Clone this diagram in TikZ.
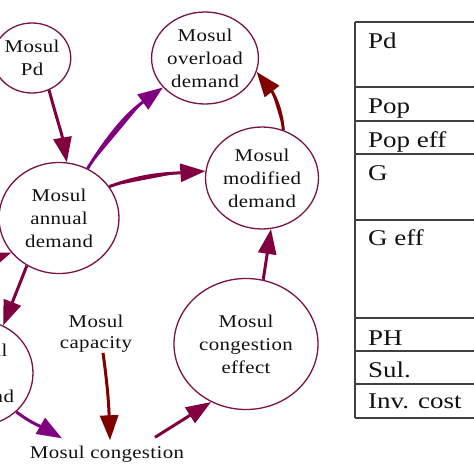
\documentclass[tikz,border=0pt]{standalone}
\usepackage{fontspec}
\setmainfont{Liberation Serif}
\newfontfamily\dgfont[FakeStretch=1.16,LetterSpace=2]{Liberation Serif}
\newfontfamily\tbfont[FakeStretch=1.2]{Liberation Serif}
\usetikzlibrary{arrows.meta,shapes.geometric}
\definecolor{nodec}{HTML}{7A1248}
\definecolor{cM}{HTML}{800040}
\definecolor{cP}{HTML}{800080}
\definecolor{cR}{HTML}{800000}
\definecolor{tabc}{HTML}{404040}
\definecolor{txt}{HTML}{111111}
\tikzset{
  cnode/.style={ellipse, draw=nodec, line width=1.3pt, inner sep=0pt, align=center,
    font=\dgfont\fontsize{18}{23}\selectfont, text=txt},
  lbl/.style={inner sep=0pt, align=center, font=\dgfont\fontsize{18}{21}\selectfont, text=txt},
  arrbase/.style={line width=3pt, -{Triangle[length=25pt,width=18pt]}},
  arrM/.style={arrbase, draw=cM, fill=cM},
  arrP/.style={arrbase, draw=cP, fill=cP},
  arrR/.style={arrbase, draw=cR, fill=cR},
  tline/.style={draw=tabc, line width=1.3pt},
  ttxt/.style={inner sep=0pt, anchor=base west, font=\tbfont\fontsize{22.5}{26}\selectfont, text=txt}
}
\begin{document}
\begin{tikzpicture}[x=1pt,y=1pt]
\useasboundingbox (0,-474) rectangle (474,0);
\clip (0,-474) rectangle (474,0);
\fill[white] (0,-474) rectangle (474,0);
% nodes
\node[cnode, minimum width=74pt, minimum height=70pt] (pd) at (32,-58) {Mosul\\Pd};
\node[cnode, minimum width=104pt, minimum height=92pt] (ov) at (205,-58) {Mosul\\overload\\demand};
\node[cnode, minimum width=113pt, minimum height=102pt] (md) at (262,-178) {Mosul\\modified\\demand};
\node[cnode, minimum width=120pt, minimum height=111pt] (an) at (59,-218) {Mosul\\annual\\demand};
\node[cnode, minimum width=106pt, minimum height=104pt] (bl) at (-20,-373) {Mosul\\[23pt]demand};
\node[cnode, minimum width=144pt, minimum height=131pt] (ef) at (246,-344) {Mosul\\congestion\\effect};
\node[lbl] (cap) at (96,-334) {Mosul\\capacity};
\node[lbl, anchor=base] (cong) at (107,-458) {Mosul congestion};
\coordinate (lin) at (-25,-266);
% edges
\draw[arrM] (pd.-62) to[out=-75,in=100] (an.82);
\draw[arrP] (an.60) to[out=58,in=216] (ov.215);
\draw[arrM] (an.32) to[out=20,in=184] (md.173);
\draw[arrR] (md.66) to[out=95,in=-52] (ov.-15);
\draw[arrM] (ef.75) -- (md.-80);
\draw[arrR] ([xshift=7pt]cap.south) to[out=-82,in=92] ([xshift=3pt,yshift=5pt]cong.north);
\draw[arrM] ([xshift=48pt,yshift=8pt]cong.north) -- (ef.239);
\draw[arrP] (bl.-47) to[out=-37,in=150] ([xshift=-45pt,yshift=7pt]cong.north);
\draw[arrM] (an.236) -- (bl.64);
\draw[arrM] (lin) -- (an.216);
% table
\draw[tline] (355,-22) -- (480,-22);
\draw[tline] (355,-87) -- (480,-87);
\draw[tline] (355,-121) -- (480,-121);
\draw[tline] (355,-154) -- (480,-154);
\draw[tline] (355,-220) -- (480,-220);
\draw[tline] (355,-318) -- (480,-318);
\draw[tline] (355,-351) -- (480,-351);
\draw[tline] (355,-384) -- (480,-384);
\draw[tline] (355,-418) -- (480,-418);
\draw[tline] (355,-22) -- (355,-418);
\node[ttxt] (t1) at (368,-48) {Pd};
\node[ttxt] (t2) at (368,-113) {Pop};
\node[ttxt] (t3) at (368,-147) {Pop eff};
\node[ttxt] (t4) at (368,-180) {G};
\node[ttxt] (t5) at (368,-245) {G eff};
\node[ttxt] (t6) at (368,-345) {PH};
\node[ttxt] (t7) at (368,-377) {Sul.};
\node[ttxt] (t8) at (368,-408) {Inv. cost};
\end{tikzpicture}
\end{document}
